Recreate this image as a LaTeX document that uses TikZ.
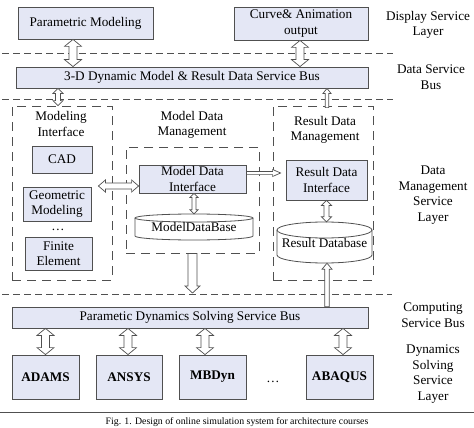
\documentclass[tikz,border=0pt]{standalone}
\usepackage{fontspec}
\setmainfont{Liberation Serif}
\usetikzlibrary{calc}
\definecolor{boxfill}{RGB}{228,231,245}
\definecolor{edge}{RGB}{80,80,80}
% vertical double arrow: x-source, upper, lower, shaft half, head half, head length
\newcommand\arrDbl[6]{\draw[blk] let \p3=(#1), \p1=(#2), \p2=(#3) in
 (\x3,\y1) -- (\x3+#5pt,\y1-#6pt) -- (\x3+#4pt,\y1-#6pt) -- (\x3+#4pt,\y2+#6pt) -- (\x3+#5pt,\y2+#6pt) -- (\x3,\y2) -- (\x3-#5pt,\y2+#6pt) -- (\x3-#4pt,\y2+#6pt) -- (\x3-#4pt,\y1-#6pt) -- (\x3-#5pt,\y1-#6pt) -- cycle;}
\newcommand\arrUp[6]{\draw[blk] let \p3=(#1), \p1=(#2), \p2=(#3) in
 (\x3,\y1) -- (\x3+#5pt,\y1-#6pt) -- (\x3+#4pt,\y1-#6pt) -- (\x3+#4pt,\y2) -- (\x3-#4pt,\y2) -- (\x3-#4pt,\y1-#6pt) -- (\x3-#5pt,\y1-#6pt) -- cycle;}
\newcommand\arrDown[6]{\draw[blk] let \p3=(#1), \p1=(#2), \p2=(#3) in
 (\x3-#4pt,\y1) -- (\x3+#4pt,\y1) -- (\x3+#4pt,\y2+#6pt) -- (\x3+#5pt,\y2+#6pt) -- (\x3,\y2) -- (\x3-#5pt,\y2+#6pt) -- (\x3-#4pt,\y2+#6pt) -- cycle;}
\newcommand\arrHDbl[6]{\draw[blk] let \p3=(#1), \p1=(#2), \p2=(#3) in
 (\x1,\y3) -- (\x1+#6pt,\y3+#5pt) -- (\x1+#6pt,\y3+#4pt) -- (\x2-#6pt,\y3+#4pt) -- (\x2-#6pt,\y3+#5pt) -- (\x2,\y3) -- (\x2-#6pt,\y3-#5pt) -- (\x2-#6pt,\y3-#4pt) -- (\x1+#6pt,\y3-#4pt) -- (\x1+#6pt,\y3-#5pt) -- cycle;}
\newcommand\arrRight[6]{\draw[blk] let \p3=(#1), \p1=(#2), \p2=(#3) in
 (\x1,\y3+#4pt) -- (\x2-#6pt,\y3+#4pt) -- (\x2-#6pt,\y3+#5pt) -- (\x2,\y3) -- (\x2-#6pt,\y3-#5pt) -- (\x2-#6pt,\y3-#4pt) -- (\x1,\y3-#4pt) -- cycle;}
\begin{document}
\begin{tikzpicture}[x=1pt,y=-1pt,
  font=\fontsize{13.2}{15.5}\selectfont,
  box/.style={draw=edge, line width=0.8pt, fill=boxfill, inner sep=0pt, align=center},
  solver/.style={box, minimum width=67, minimum height=44, font=\fontsize{13.2}{15.5}\selectfont\bfseries},
  dbox/.style={draw=edge, line width=0.8pt, dash pattern=on 9pt off 6pt, inner sep=0pt},
  layerline/.style={draw=edge, line width=0.7pt, dash pattern=on 7pt off 4pt},
  lbl/.style={align=center, inner sep=0pt},
  cyl/.style={draw=edge, line width=0.8pt, fill=white},
  blk/.style={draw=edge, line width=0.7pt, fill=white, line join=miter},
]
\useasboundingbox (0,0) rectangle (474,428);
% display layer
\node[box, minimum width=135, minimum height=32] (pm) at (85.5,23) {Parametric Modeling};
\node[box, minimum width=134, minimum height=33] (cao) at (301,23.5) {Curve\& Animation\\output};
\node[lbl] (l1) at (428,25) {Display Service\\Layer};
\draw[layerline] (2,53) -- (393,53);
% data service bus
\node[box, minimum width=352, minimum height=21] (bus1) at (192,77.5) {3-D Dynamic Model \& Result Data Service Bus};
\node[lbl] (l2) at (431,77) {Data Service\\Bus};
\draw[layerline] (2,99) -- (393,99);
% modeling interface
\node[dbox, minimum width=100, minimum height=174] (mi) at (62,193) {};
\node[lbl] (mit) at (61,124) {Modeling\\Interface};
\node[box, minimum width=60, minimum height=27] (cad) at (62,159.5) {CAD};
\node[box, minimum width=68, minimum height=34] (geo) at (57,204) {Geometric\\Modeling};
\node[lbl] (dots1) at (58,230) {\dots};
\node[box, minimum width=67, minimum height=33] (fe) at (58.5,253.5) {Finite\\Element};
% model data management
\node[lbl] (mdmt) at (192,125) {Model Data\\Management};
\node[dbox, minimum width=133, minimum height=106] (mdm) at (192.5,200) {};
\node[box, minimum width=107, minimum height=28] (mdi) at (192.5,179) {Model Data\\Interface};
\draw[cyl] (135,218) -- (135,236) arc[start angle=180, end angle=0, x radius=59, y radius=4] -- (253,218);
\draw[cyl] (194,218) ellipse[x radius=59, y radius=4];
\node[inner sep=0pt, minimum width=118, minimum height=26] (mdb) at (194,227) {ModelDataBase};
% result data management
\node[dbox, minimum width=100, minimum height=174] (rdm) at (323,193) {};
\node[lbl] (rdmt) at (325,130) {Result Data\\Management};
\node[box, minimum width=81, minimum height=40] (rdi) at (326.5,180) {Result Data\\Interface};
\draw[cyl] (277,230) -- (277,255) arc[start angle=180, end angle=0, x radius=47.5, y radius=8] -- (372,230);
\draw[cyl] (324.5,230) ellipse[x radius=47.5, y radius=8];
\node[inner sep=0pt, minimum width=95, minimum height=41] (rdb) at (324.5,242.5) {Result Database};
\node[lbl] (l3) at (433,195) {Data\\Management\\Service\\Layer};
\draw[layerline] (2,294) -- (392,294);
\coordinate (d3) at (192.5,293);
% computing bus
\node[box, minimum width=356, minimum height=21] (bus2) at (190,317.5) {Parametic Dynamics Solving Service Bus};
\node[lbl] (l4) at (433,315) {Computing\\Service Bus};
% solvers
\node[solver] (adams) at (45.5,377) {ADAMS};
\node[solver, minimum width=66] (ansys) at (129,377) {ANSYS};
\node[solver] (mbdyn) at (212.5,377) {MBDyn};
\node[lbl] (dots2) at (273,382) {\dots};
\node[solver] (abaqus) at (339.5,377) {ABAQUS};
\node[lbl] (l5) at (433,374) {Dynamics\\Solving\\Service\\Layer};
% arrows
\arrDbl{[xshift=-12.5pt]pm.south}{pm.south}{bus1.north}{4}{8.5}{7}
\arrDbl{[xshift=-1pt]cao.south}{cao.south}{bus1.north}{4}{8.5}{7}
\arrDbl{[xshift=-134pt]bus1.south}{bus1.south}{mi.north}{2.5}{5}{5}
\arrUp{[xshift=135pt]bus1.south}{bus1.south}{[yshift=-2pt]rdm.north}{1.8}{4}{5}
\arrHDbl{[yshift=-7pt]mdi.west}{[xshift=-14pt]mi.east}{mdi.west}{3}{6}{7}
\arrRight{[yshift=6pt]mdi.east}{mdi.east}{[xshift=-5pt]rdi.west}{1.6}{3.5}{8}
\arrDbl{[xshift=1.5pt]mdi.south}{mdi.south}{mdb.north}{2}{4}{4}
\arrDbl{rdi.south}{rdi.south}{rdb.north}{2.5}{5}{5}
\arrDown{mdm.south}{mdm.south}{d3}{4.5}{7.5}{7}
\arrUp{[xshift=2.5pt]rdb.south}{rdb.south}{bus2.north}{2.2}{5}{6}
\arrDbl{adams.north}{bus2.south}{adams.north}{4}{8.5}{7}
\arrDbl{[xshift=-1pt]ansys.north}{bus2.south}{ansys.north}{4}{8.5}{7}
\arrDbl{[xshift=-7.5pt]mbdyn.north}{bus2.south}{mbdyn.north}{4}{8.5}{7}
\arrDbl{[xshift=3.5pt]abaqus.north}{bus2.south}{abaqus.north}{4}{8.5}{7}
% caption
\draw[draw=edge, line width=0.6pt] (0,412) -- (474,412);
\node[font=\fontsize{9.8}{12}\selectfont, inner sep=0pt] (cap) at (237,422) {Fig. 1. Design of online simulation system for architecture courses};
\end{tikzpicture}
\end{document}
